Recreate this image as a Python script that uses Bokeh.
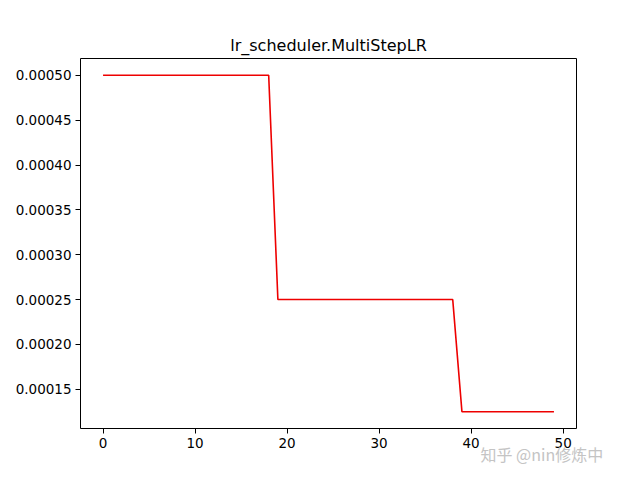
from bokeh.plotting import figure
from bokeh.models import Range1d, PrintfTickFormatter, FixedTicker, Title
from bokeh.embed import file_html
from bokeh.resources import INLINE

epochs = list(range(50))
lr = [0.0005] * 19 + [0.00025] * 20 + [0.000125] * 11
x_ticks = [0, 10, 20, 30, 40, 50]
y_ticks = [0.00015, 0.00020, 0.00025, 0.00030, 0.00035, 0.00040, 0.00045, 0.00050]
title_text = "lr_scheduler.MultiStepLR"
watermark = "知乎 @nin修炼中"

xspan = max(epochs) - min(epochs)
yspan = max(lr) - min(lr)

p = figure(width=624, height=464, output_backend="svg", toolbar_location=None,
           title=title_text,
           x_range=Range1d(min(epochs) - 0.05 * xspan, max(epochs) + 0.05 * xspan),
           y_range=Range1d(min(lr) - 0.05 * yspan, max(lr) + 0.05 * yspan),
           min_border_left=80, min_border_right=48, min_border_top=58, min_border_bottom=36)

p.line(epochs, lr, line_color="#ee0000", line_width=1.6)

p.title.align = "center"
p.title.text_font = "DejaVu Sans"
p.title.text_font_size = "16px"
p.title.text_font_style = "normal"
p.title.text_color = "black"
p.title.standoff = 8

p.xgrid.visible = False
p.ygrid.visible = False
p.outline_line_color = "black"
p.outline_line_width = 1

for ax in (p.xaxis[0], p.yaxis[0]):
    ax.axis_line_color = None
    ax.major_tick_line_color = "black"
    ax.major_tick_out = 5
    ax.major_tick_in = 0
    ax.minor_tick_line_color = None
    ax.major_label_text_font = "DejaVu Sans"
    ax.major_label_text_font_size = "13.5px"
    ax.major_label_text_color = "black"
    ax.major_label_standoff = 4

p.xaxis[0].ticker = FixedTicker(ticks=x_ticks)
p.yaxis[0].ticker = FixedTicker(ticks=y_ticks)
p.yaxis[0].formatter = PrintfTickFormatter(format="%.5f")

wm = Title(text=watermark, align="left", offset=400, standoff=-22,
           text_font="Noto Sans CJK SC", text_font_size="16px",
           text_font_style="normal", text_color="#c4c4c4")
p.add_layout(wm, "below")

open("out.html", "w").write(file_html(p, INLINE))
